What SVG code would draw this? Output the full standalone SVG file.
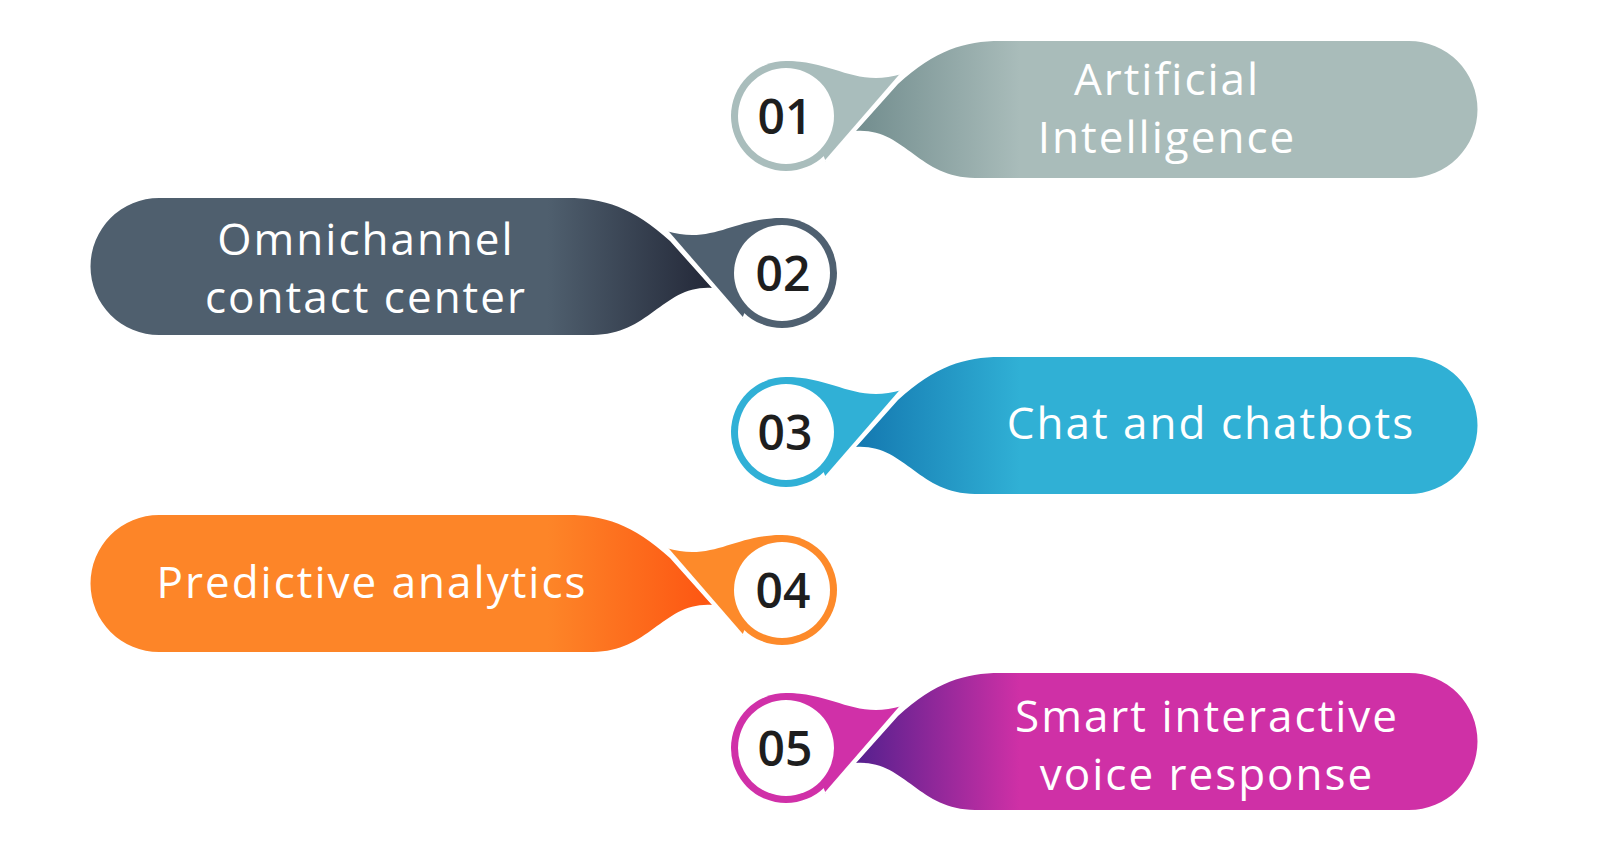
<svg xmlns="http://www.w3.org/2000/svg" width="1600" height="864" viewBox="0 0 1600 864">
<style>
.lbl{font-family:"Open Sans","Noto Sans",sans-serif;font-size:44px;fill:#fff;text-anchor:middle;letter-spacing:2px}
.num{font-family:"Open Sans","Noto Sans",sans-serif;font-size:48px;font-weight:600;fill:#1e1e1e;text-anchor:middle}
</style>
<defs>
<linearGradient id="g1" gradientUnits="userSpaceOnUse" x1="856" y1="0" x2="1020" y2="0"><stop offset="0" stop-color="#728d8e"/><stop offset="1" stop-color="#a9bcba"/></linearGradient>
<linearGradient id="g2" gradientUnits="userSpaceOnUse" x1="856" y1="0" x2="1020" y2="0"><stop offset="0" stop-color="#232838"/><stop offset="1" stop-color="#4f5f6e"/></linearGradient>
<linearGradient id="g3" gradientUnits="userSpaceOnUse" x1="856" y1="0" x2="1020" y2="0"><stop offset="0" stop-color="#1478b0"/><stop offset="1" stop-color="#30b0d5"/></linearGradient>
<linearGradient id="g4" gradientUnits="userSpaceOnUse" x1="856" y1="0" x2="1020" y2="0"><stop offset="0" stop-color="#fd5512"/><stop offset="1" stop-color="#fd8528"/></linearGradient>
<linearGradient id="g5" gradientUnits="userSpaceOnUse" x1="856" y1="0" x2="1020" y2="0"><stop offset="0" stop-color="#55208e"/><stop offset="1" stop-color="#cf30a6"/></linearGradient>
<path id="pill" d="M1000,41 H1409 A68.5,68.5 0 0 1 1409,178 H975 C918,178 905,128 856,131 L898,84 C935,50 965,41 1000,41 Z"/>
<path id="tail" d="M786,61 C835,61 855,88 902,74 L826,162 Z"/>
</defs>
<g id="item1">
<use href="#pill" fill="url(#g1)"/>
<circle cx="786" cy="116" r="55" fill="#a9bdbc"/><use href="#tail" fill="#a9bdbc"/>
<circle cx="786" cy="116" r="48" fill="#fff"/>
<line x1="904" y1="72" x2="826" y2="162" stroke="#fff" stroke-width="4"/>
</g>
<g id="item2" transform="translate(1568,157) scale(-1,1)">
<use href="#pill" fill="url(#g2)"/>
<circle cx="786" cy="116" r="55" fill="#4f6070"/><use href="#tail" fill="#4f6070"/>
<circle cx="786" cy="116" r="48" fill="#fff"/>
<line x1="904" y1="72" x2="826" y2="162" stroke="#fff" stroke-width="4"/>
</g>
<g id="item3" transform="translate(0,316)">
<use href="#pill" fill="url(#g3)"/>
<circle cx="786" cy="116" r="55" fill="#30b0d6"/><use href="#tail" fill="#30b0d6"/>
<circle cx="786" cy="116" r="48" fill="#fff"/>
<line x1="904" y1="72" x2="826" y2="162" stroke="#fff" stroke-width="4"/>
</g>
<g id="item4" transform="translate(1568,474) scale(-1,1)">
<use href="#pill" fill="url(#g4)"/>
<circle cx="786" cy="116" r="55" fill="#fd8a2a"/><use href="#tail" fill="#fd8a2a"/>
<circle cx="786" cy="116" r="48" fill="#fff"/>
<line x1="904" y1="72" x2="826" y2="162" stroke="#fff" stroke-width="4"/>
</g>
<g id="item5" transform="translate(0,632)">
<use href="#pill" fill="url(#g5)"/>
<circle cx="786" cy="116" r="55" fill="#d030a8"/><use href="#tail" fill="#d030a8"/>
<circle cx="786" cy="116" r="48" fill="#fff"/>
<line x1="904" y1="72" x2="826" y2="162" stroke="#fff" stroke-width="4"/>
</g>
<g id="labels">
<text class="num" x="785" y="134">01</text>
<text class="num" x="783" y="291">02</text>
<text class="num" x="785" y="450">03</text>
<text class="num" x="783" y="608">04</text>
<text class="num" x="785" y="766">05</text>
<text class="lbl" x="1167" y="95">Artificial</text>
<text class="lbl" x="1167" y="153">Intelligence</text>
<text class="lbl" x="366" y="255">Omnichannel</text>
<text class="lbl" x="366" y="313">contact center</text>
<text class="lbl" x="1211" y="439">Chat and chatbots</text>
<text class="lbl" x="372" y="598">Predictive analytics</text>
<text class="lbl" x="1207" y="732">Smart interactive</text>
<text class="lbl" x="1207" y="790">voice response</text>
</g>
</svg>
